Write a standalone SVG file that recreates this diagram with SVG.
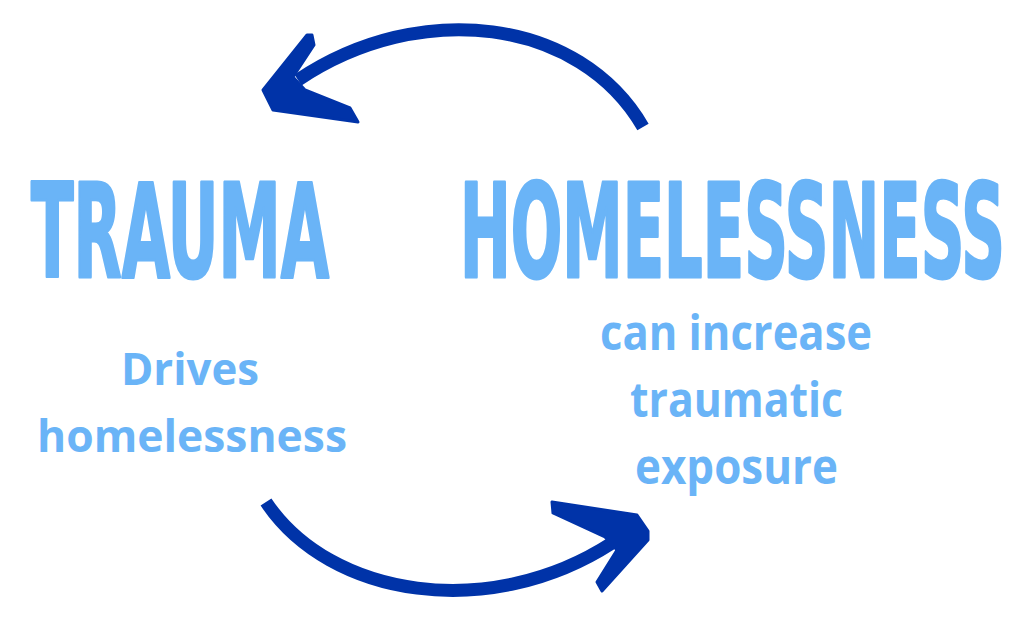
<svg xmlns="http://www.w3.org/2000/svg" width="1024" height="622" viewBox="0 0 1024 622">
<style>
.big{font-family:"DejaVu Sans","Liberation Sans",sans-serif;font-stretch:condensed;font-weight:bold;font-size:130px;fill:#6AB4F7;stroke:#6AB4F7;stroke-width:3;stroke-linejoin:round}
.small{font-family:"Open Sans","Noto Sans","Liberation Sans",sans-serif;font-weight:bold;fill:#6AB4F7;text-anchor:start}
.shaft{fill:none;stroke:#0033A8;stroke-width:13;stroke-linecap:butt}
.head{fill:#0033A8;stroke:#0033A8;stroke-width:3;stroke-linejoin:round}
</style>
<rect width="1024" height="622" fill="#ffffff"/>
<g id="trauma">
<text class="big" x="31" y="277" textLength="298" lengthAdjust="spacingAndGlyphs">TRAUMA</text>
<text class="small" x="121" y="385" font-size="45" textLength="138" lengthAdjust="spacingAndGlyphs">Drives</text>
<text class="small" x="37" y="452" font-size="45" textLength="310" lengthAdjust="spacingAndGlyphs">homelessness</text>
</g>
<g id="homelessness">
<text class="big" x="460" y="277" textLength="545" lengthAdjust="spacingAndGlyphs">HOMELESSNESS</text>
<text class="small" x="600" y="350" font-size="48" textLength="272" lengthAdjust="spacingAndGlyphs">can increase</text>
<text class="small" x="630" y="417" font-size="48" textLength="213" lengthAdjust="spacingAndGlyphs">traumatic</text>
<text class="small" x="635" y="484" font-size="48" textLength="203" lengthAdjust="spacingAndGlyphs">exposure</text>
</g>
<g id="connectors">
<path class="shaft" d="M643,127 C580,18 420,-2 298,80"/>
<polygon class="head" points="263,90 307,35 312,35 314,45 293,77 305,90 350,108 358,122 273,110"/>
<path class="shaft" d="M266,502 C330,598 490,622 612,543"/>
<polygon class="head" points="648,531 637,515 552,502 553,513 605,537 617,550 597,582 602,591 648,540"/>
</g>
</svg>
